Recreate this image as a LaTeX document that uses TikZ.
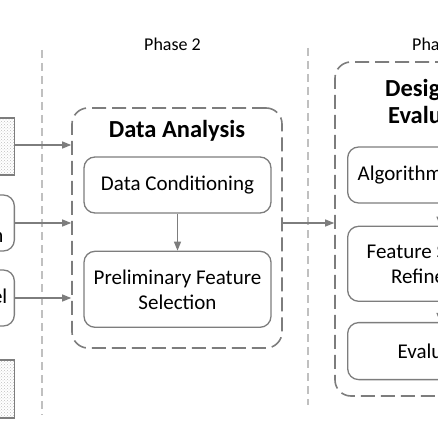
\documentclass[tikz,border=0pt]{standalone}
\usepackage{fontspec}
\setmainfont{Carlito}
\usetikzlibrary{positioning,arrows.meta,patterns}

\definecolor{edge}{RGB}{125,125,125}
\definecolor{divider}{RGB}{192,192,192}
\tikzstyle{box}=[draw=edge, line width=1.3pt, rounded corners=11pt, align=center,
        font=\fontsize{21}{25}\selectfont, minimum width=187pt, inner sep=0pt]
\tikzstyle{group}=[draw=edge, line width=1.6pt, dash pattern=on 14pt off 6pt,
        rounded corners=16pt, inner sep=0pt]
\tikzstyle{title}=[align=center, font=\fontsize{24.5}{27}\selectfont\bfseries, inner sep=0pt]
\tikzstyle{flow}=[-{Triangle[length=9pt,width=7pt]}, draw=edge, line width=1.2pt]
\tikzstyle{img}=[draw=edge, line width=1.2pt, pattern=crosshatch dots,
        pattern color=edge!50, minimum width=150pt, anchor=east]

\begin{document}
\begin{tikzpicture}[x=1pt, y=-1pt]
        \useasboundingbox (0,0) rectangle (438,438);
        \clip (0,0) rectangle (438,438);

        % phase labels and dividers
        \node[font=\fontsize{18}{22}\selectfont] (ph2) at (172.5,44) {Phase 2};
        \node[font=\fontsize{18}{22}\selectfont, anchor=west, inner sep=0pt] (ph3)
            at (412,44) {Phase 3};
        \draw[divider, line width=1.5pt, dash pattern=on 8pt off 5pt] (42,50) -- (42,415);
        \draw[divider, line width=1.5pt, dash pattern=on 8pt off 5pt] (308,48) -- (308,405);

        % phase 1 (cut off)
        \node[img, minimum height=57pt] (in1) at (15,146.5) {};
        \node[box, minimum width=0pt, inner xsep=11pt, minimum height=56pt, anchor=east,
            font=\fontsize{21}{28}\selectfont] (in2) at (15,223) {Data\\Acquisition};
        \node[box, minimum width=0pt, inner xsep=7pt, minimum height=56pt, anchor=east]
            (in3) at (15,298) {Signal Model};
        \node[img, minimum height=58pt] (in4) at (15,389) {};

        % phase 2
        \node[group, minimum width=210pt, minimum height=240pt] (ana) at (177,228) {};
        \node[title] (anatitle) at (177,131) {Data Analysis};
        \node[box, minimum height=56pt] (cond) at (177.5,185) {Data Conditioning};
        \node[box, minimum height=76pt, below=37pt of cond] (prelim)
            {Preliminary Feature\\Selection};

        % phase 3
        \node[group, minimum width=210pt, minimum height=334pt] (des) at (440,229) {};
        \node[title, anchor=west] (destitle) at (385,101) {Design and\\Evaluation};
        \node[box, minimum width=0pt, inner xsep=10pt, minimum height=56pt, anchor=west]
            (alg) at (347,175) {Algorithm Development};
        \node[box, minimum width=0pt, inner xsep=19pt, minimum height=75pt,
            below=22pt of alg.south west, anchor=north west] (refine)
            {Feature Selection\\Refinement};
        \node[box, minimum width=0pt, inner xsep=50pt, minimum height=57pt,
            below=20pt of refine.south west, anchor=north west] (eval) {Evaluation};

        \draw[flow] (in1.east |- 0,145) -- (ana.west |- 0,145);
        \draw[flow] (in2.east) -- (in2.east -| ana.west);
        \draw[flow] (in3.east) -- (in3.east -| ana.west);
        \draw[flow] (cond) -- (prelim);
        \draw[flow] (ana.east |- in2.east) -- (des.west |- in2.east);
        \draw[flow] (alg.south -| des.center) -- (refine.north -| des.center);
        \draw[flow] (refine.south -| des.center) -- (eval.north -| des.center);

    \end{tikzpicture}
\end{document}
